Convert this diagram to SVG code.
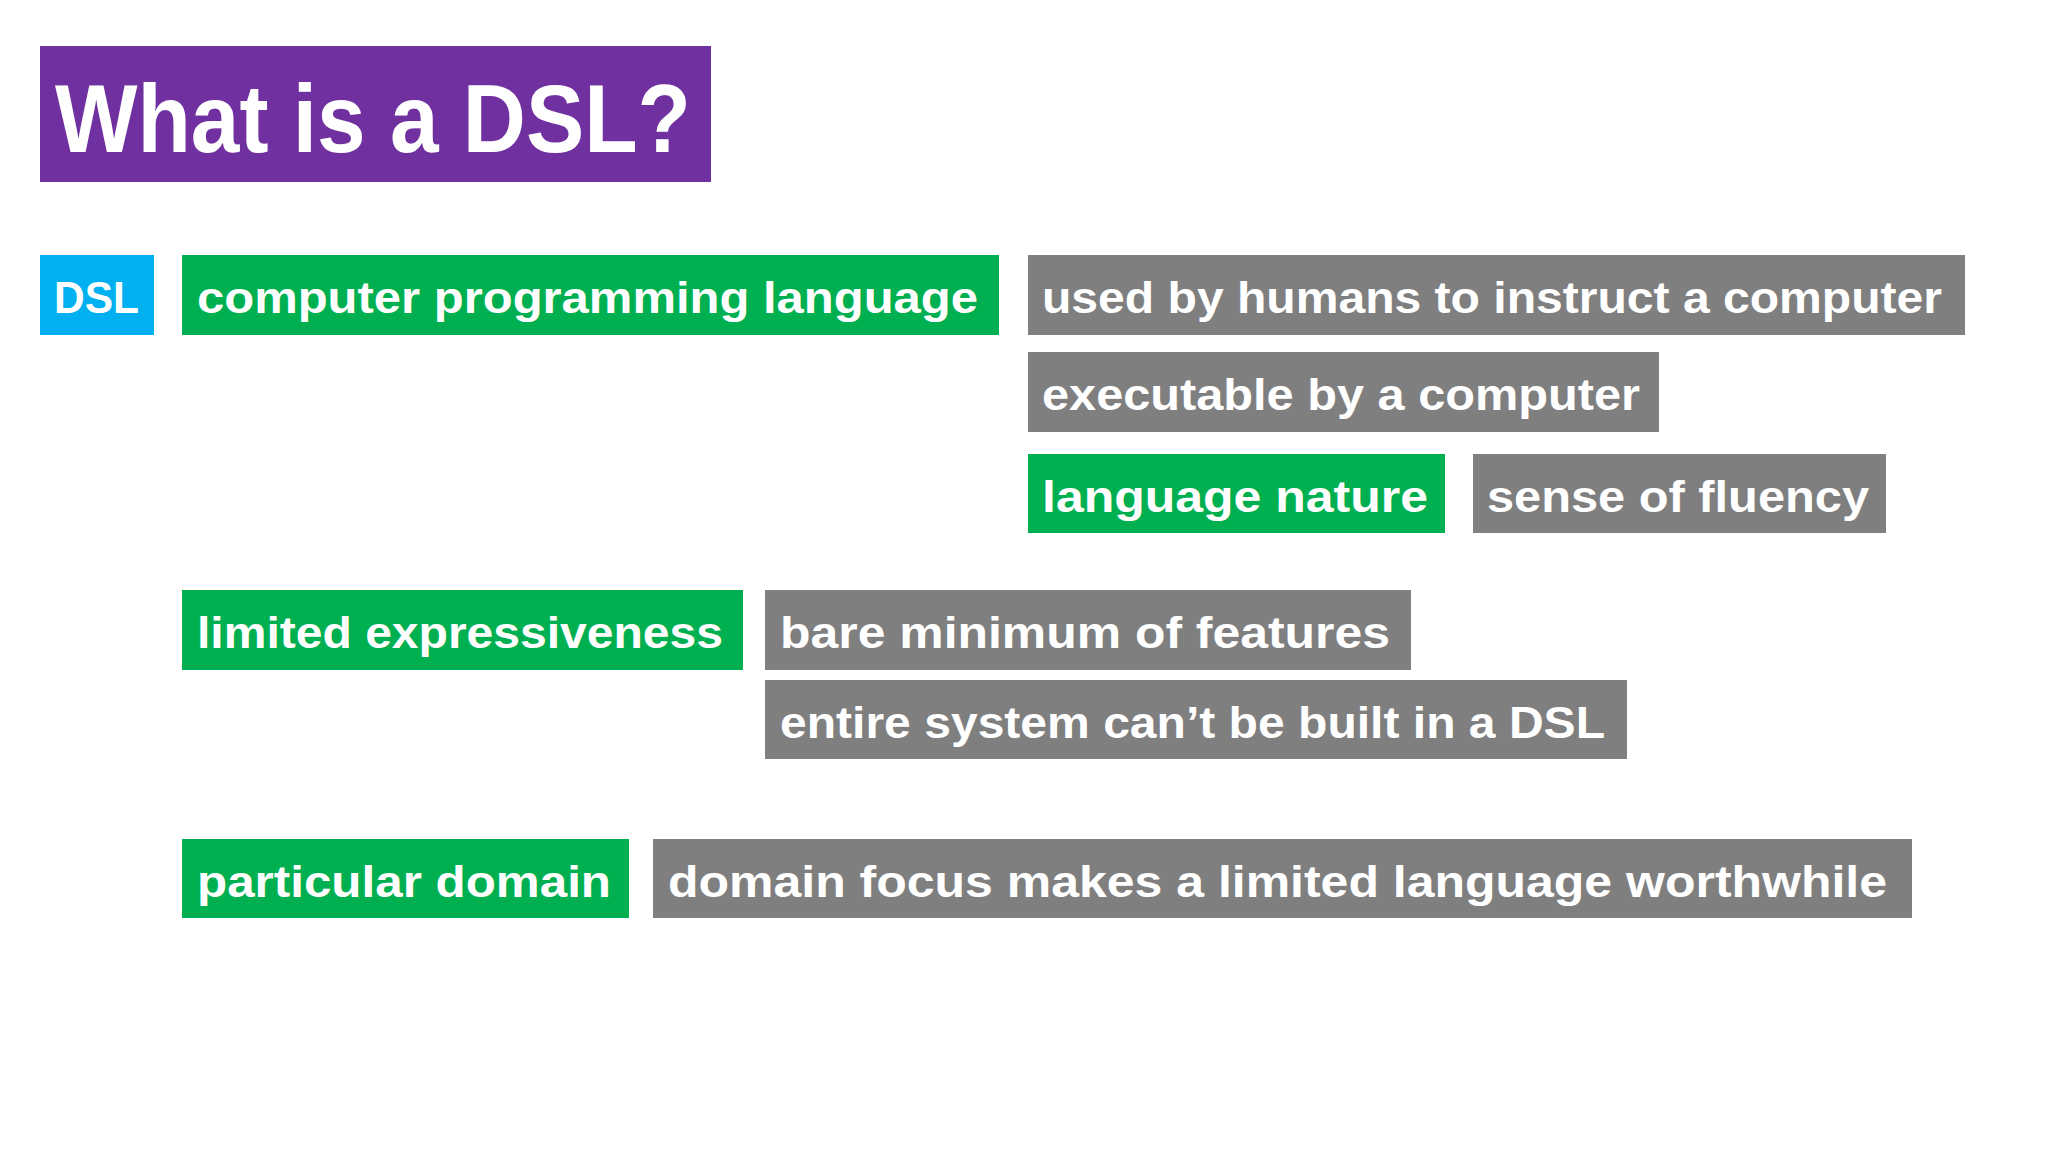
<svg xmlns="http://www.w3.org/2000/svg" width="2048" height="1152" viewBox="0 0 2048 1152">
<style>
text{font-family:"Liberation Sans",Arial,sans-serif;font-weight:bold;fill:#fff;font-size:44px}
.g{fill:#00B050}.y{fill:#7F7F7F}.b{fill:#00B0F0}.p{fill:#7030A0}
.t{font-size:96px}
</style>
<rect width="2048" height="1152" fill="#fff"/>
<g id="title"><rect class="p" x="40" y="46" width="671" height="136"/><text class="t" x="55" y="152" textLength="636" lengthAdjust="spacingAndGlyphs">What is a DSL?</text></g>
<g id="dsl"><rect class="b" x="40" y="255" width="114" height="80"/><text x="54" y="313" textLength="85" lengthAdjust="spacingAndGlyphs">DSL</text></g>
<g id="cpl"><rect class="g" x="182" y="255" width="817" height="80"/><text x="197" y="313" textLength="781" lengthAdjust="spacingAndGlyphs">computer programming language</text></g>
<g id="used"><rect class="y" x="1028" y="255" width="937" height="80"/><text x="1042" y="313" textLength="900" lengthAdjust="spacingAndGlyphs">used by humans to instruct a computer</text></g>
<g id="exec"><rect class="y" x="1028" y="352" width="631" height="80"/><text x="1042" y="410" textLength="598" lengthAdjust="spacingAndGlyphs">executable by a computer</text></g>
<g id="langnat"><rect class="g" x="1028" y="454" width="417" height="79"/><text x="1042" y="512" textLength="386" lengthAdjust="spacingAndGlyphs">language nature</text></g>
<g id="fluency"><rect class="y" x="1473" y="454" width="413" height="79"/><text x="1487" y="512" textLength="382" lengthAdjust="spacingAndGlyphs">sense of fluency</text></g>
<g id="limited"><rect class="g" x="182" y="590" width="561" height="80"/><text x="197" y="648" textLength="526" lengthAdjust="spacingAndGlyphs">limited expressiveness</text></g>
<g id="bare"><rect class="y" x="765" y="590" width="646" height="80"/><text x="780" y="648" textLength="610" lengthAdjust="spacingAndGlyphs">bare minimum of features</text></g>
<g id="entire"><rect class="y" x="765" y="680" width="862" height="79"/><text x="780" y="738" textLength="825" lengthAdjust="spacingAndGlyphs">entire system can’t be built in a DSL</text></g>
<g id="particular"><rect class="g" x="182" y="839" width="447" height="79"/><text x="197" y="897" textLength="414" lengthAdjust="spacingAndGlyphs">particular domain</text></g>
<g id="focus"><rect class="y" x="653" y="839" width="1259" height="79"/><text x="668" y="897" textLength="1219" lengthAdjust="spacingAndGlyphs">domain focus makes a limited language worthwhile</text></g>
<g id="connectors"/>
</svg>
